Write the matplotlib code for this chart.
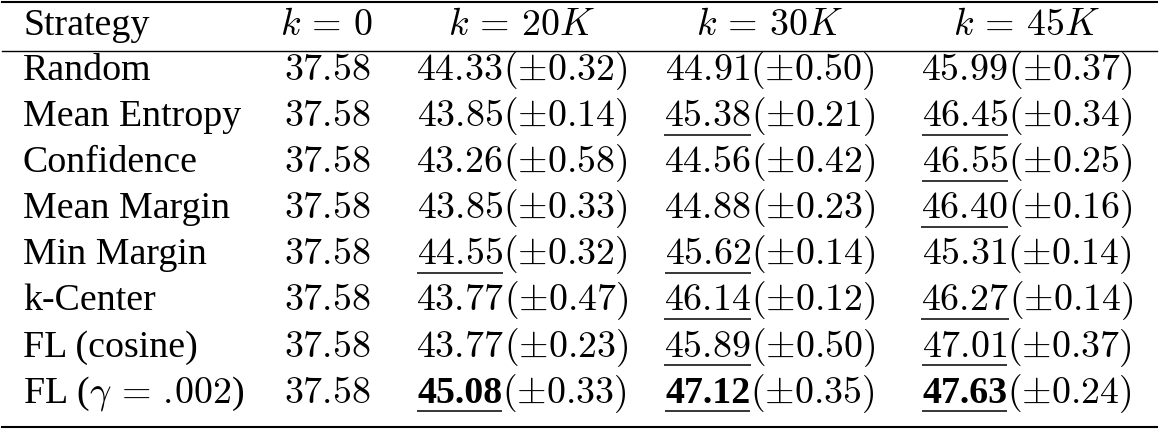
import matplotlib
matplotlib.use("Agg")
import matplotlib.pyplot as plt

plt.rcParams['font.family'] = ['Liberation Serif', 'DejaVu Serif']
plt.rcParams['mathtext.fontset'] = 'cm'

# table contents
strategies = ['Random', 'Mean Entropy', 'Confidence', 'Mean Margin',
              'Min Margin', 'k-Center', 'FL (cosine)', r'FL ($\gamma\,=\,.\!002$)']
headers = ['Strategy', r'$k\,=\,0$', r'$k\,=\,20K$', r'$k\,=\,30K$', r'$k\,=\,45K$']
acc_k0 = [37.58, 37.58, 37.58, 37.58, 37.58, 37.58, 37.58, 37.58]
mean_20k = [44.33, 43.85, 43.26, 43.85, 44.55, 43.77, 43.77, 45.08]
std_20k = [0.32, 0.14, 0.58, 0.33, 0.32, 0.47, 0.23, 0.33]
mean_30k = [44.91, 45.38, 44.56, 44.88, 45.62, 46.14, 45.89, 47.12]
std_30k = [0.50, 0.21, 0.42, 0.23, 0.14, 0.12, 0.50, 0.35]
mean_45k = [45.99, 46.45, 46.55, 46.40, 45.31, 46.27, 47.01, 47.63]
std_45k = [0.37, 0.34, 0.25, 0.16, 0.14, 0.14, 0.37, 0.24]
# '' plain, 'u' underlined, 'b' bold + underlined
mark_20k = ['', '', '', '', 'u', '', '', 'b']
mark_30k = ['', 'u', '', '', 'u', 'u', 'u', 'b']
mark_45k = ['', 'u', 'u', 'u', '', 'u', 'u', 'b']

W, H = 1159, 430
fs = 27.3
fig = plt.figure(figsize=(W / 100, H / 100), dpi=100)
ax = fig.add_axes([0, 0, 1, 1])
ax.set_xlim(0, W)
ax.set_ylim(H, 0)
ax.set_axis_off()
renderer = fig.canvas.get_renderer()

col_x = [23, 327, 522, 770, 1027]
header_y = 35
row_y0, row_dy = 80, 46.1

# rules
ax.axhline(2, 0.002, 0.998, color='black', lw=1.5)
ax.axhline(51, 0.002, 0.998, color='black', lw=1.0)
ax.axhline(427, 0.002, 0.998, color='black', lw=1.5)

# header
ax.text(col_x[0], header_y, headers[0], fontsize=fs, ha='left', va='baseline')
for x, h in zip(col_x[1:], headers[1:]):
    ax.text(x, header_y, h, fontsize=fs, ha='center', va='baseline')


def width_of(t):
    return t.get_window_extent(renderer).width


def cell(x, y, m, s, mark):
    if mark == 'b':
        a = ax.text(0, y, f'{m:.2f}', fontsize=fs, fontweight='bold',
                    ha='left', va='baseline')
    else:
        a = ax.text(0, y, f'${m:.2f}$', fontsize=fs, ha='left', va='baseline')
    b = ax.text(0, y, rf'$(\pm{s:.2f})$', fontsize=fs, ha='left', va='baseline')
    wa, wb = width_of(a), width_of(b)
    left = x - (wa + wb) / 2
    a.set_x(left)
    b.set_x(left + wa)
    if mark:
        ax.plot([left, left + wa], [y + 8.5, y + 8.5], color='black', lw=1.1,
                solid_capstyle='butt')


for i, name in enumerate(strategies):
    y = row_y0 + i * row_dy
    ax.text(col_x[0], y, name, fontsize=fs, ha='left', va='baseline')
    ax.text(col_x[1], y, f'${acc_k0[i]:.2f}$', fontsize=fs, ha='center', va='baseline')
    cell(col_x[2], y, mean_20k[i], std_20k[i], mark_20k[i])
    cell(col_x[3], y, mean_30k[i], std_30k[i], mark_30k[i])
    cell(col_x[4], y, mean_45k[i], std_45k[i], mark_45k[i])

fig.savefig('out.png', dpi=100)
